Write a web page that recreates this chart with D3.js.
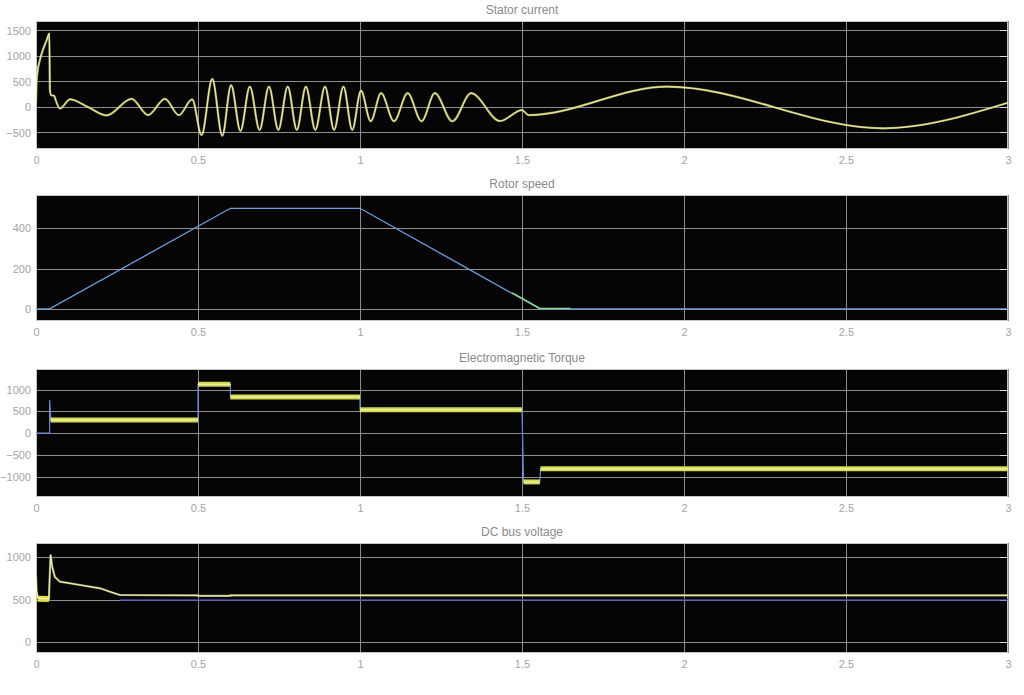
<!DOCTYPE html>
<html><head><meta charset="utf-8">
<script src="https://cdn.jsdelivr.net/npm/d3@7"></script>
<style>
body{margin:0;background:#fff;}
svg{display:block;font-family:"Liberation Sans",Arial,sans-serif;}
</style></head>
<body><svg id="chart" width="1024" height="695"></svg>
<script>
// ---------- data ----------
const xTicks = [0, 0.5, 1, 1.5, 2, 2.5, 3];
const xTickLabels = ["0", "0.5", "1", "1.5", "2", "2.5", "3"];

// Stator current (key points: peaks / troughs)
const statorT = [0, 0.0015, 0.004, 0.012, 0.023, 0.033, 0.041, 0.043, 0.047, 0.056, 0.06, 0.074,
  0.105, 0.16, 0.218, 0.295, 0.346, 0.398, 0.441, 0.482,
  0.511, 0.544, 0.575, 0.602, 0.631, 0.660, 0.690, 0.719, 0.748, 0.777, 0.805, 0.833, 0.862, 0.892, 0.920, 0.949, 0.976,
  1.003, 1.033, 1.065, 1.105, 1.147, 1.190, 1.231, 1.285, 1.343, 1.432, 1.500, 1.520, 1.948, 2.614, 3.000];
const statorI = [100, 450, 650, 920, 1150, 1310, 1440, 330, 230, 220, 150, -30,
  150, 0, -165, 160, -160, 160, -160, 150,
  -550, 550, -565, 430, -470, 400, -450, 400, -450, 400, -450, 400, -450, 400, -450, 400, -450,
  320, -280, 270, -280, 270, -280, 270, -280, 270, -275, -60, -160, 398, -418, 84];
const statorTicks = [-500, 0, 500, 1000, 1500];

// Rotor speed
const speedT = [0, 0.042, 0.6, 1.0, 1.555, 3];
const speedRef = [0, 0, 500, 500, 0, 0];
const speedMeasT = [1.47, 1.555, 1.65];
const speedMeas = [80, 3, 3];
const speedTicks = [0, 200, 400];

// Electromagnetic torque
const torqueRefT = [0, 0.042, 0.042, 0.046, 0.5, 0.5, 0.6, 0.6, 1.0, 1.0, 1.5, 1.505, 1.555, 1.557, 3];
const torqueRef = [0, 0, 760, 300, 300, 1120, 1120, 830, 830, 535, 535, -1120, -1120, -815, -815];
const torqueSegStart = [0.045, 0.5, 0.6, 1.0, 1.505, 1.557];
const torqueSegEnd = [0.5, 0.6, 1.0, 1.5, 1.555, 3.0];
const torqueSegValue = [305, 1120, 830, 535, -1115, -815];
const torqueTicks = [-1000, -500, 0, 500, 1000];

// DC bus voltage
const dcT = [0, 0.002, 0.006, 0.02, 0.04, 0.041, 0.045, 0.05, 0.058, 0.074, 0.136, 0.198, 0.228, 0.259, 0.5, 0.5, 0.6, 0.6, 3];
const dcV = [770, 600, 520, 515, 510, 640, 1030, 890, 770, 713, 674, 635, 595, 556, 552, 546, 546, 553, 553];
const dcRippleT = [0.005, 0.04];
const dcRippleV = [512, 508];
const dcRefT = [0.26, 3];
const dcRefV = [500, 500];
const dcTicks = [0, 500, 1000];

const titles = ["Stator current", "Rotor speed", "Electromagnetic Torque", "DC bus voltage"];

// ---------- layout ----------
const svg = d3.select("#chart");
const left = 36, right = 1008;
const x = d3.scaleLinear().domain([0, 3]).range([left, right]);

const panels = [
  {top: 21, bottom: 149, domain: [-824, 1686], ticks: statorTicks},
  {top: 195, bottom: 321, domain: [-60, 566], ticks: speedTicks},
  {top: 369, bottom: 497, domain: [-1460, 1470], ticks: torqueTicks},
  {top: 543, bottom: 653, domain: [-126, 1168], ticks: dcTicks}
];

const zip = (a, b) => a.map((v, i) => [v, b[i]]);

panels.forEach((p, i) => {
  const y = d3.scaleLinear().domain(p.domain).range([p.bottom, p.top]);
  p.y = y;
  const g = svg.append("g");
  g.append("rect").attr("x", left).attr("y", p.top).attr("width", right - left).attr("height", p.bottom - p.top).attr("fill", "#050505");
  // grid
  g.append("g").selectAll("line").data(xTicks).join("line")
    .attr("x1", d => Math.round(x(d)) + 0.5).attr("x2", d => Math.round(x(d)) + 0.5).attr("y1", p.top).attr("y2", p.bottom)
    .attr("stroke", "#8e8e8e").attr("stroke-width", 1);
  g.append("g").selectAll("line").data(p.ticks).join("line")
    .attr("x1", left).attr("x2", right).attr("y1", d => Math.round(y(d)) + 0.5).attr("y2", d => Math.round(y(d)) + 0.5)
    .attr("stroke", "#8e8e8e").attr("stroke-width", 1);
  // axes
  const ax = g.append("g").attr("transform", `translate(0,${p.bottom})`)
    .call(d3.axisBottom(x).tickValues(xTicks).tickFormat((d, k) => xTickLabels[k]).tickSize(0).tickPadding(7));
  const ay = g.append("g").attr("transform", `translate(${left},0)`)
    .call(d3.axisLeft(y).tickValues(p.ticks).tickFormat(d3.format("d")).tickSize(0).tickPadding(5));
  [ax, ay].forEach(a => {
    a.select(".domain").remove();
    a.selectAll("text").attr("fill", "#a4a4a4").attr("font-size", 11).attr("font-family", "'Liberation Sans',Arial,sans-serif");
  });
  // border
  g.append("rect").attr("x", left + 0.5).attr("y", p.top + 0.5).attr("width", right - left - 1).attr("height", p.bottom - p.top - 1)
    .attr("fill", "none").attr("stroke", "#c4c4c4").attr("stroke-width", 1);
  // right ticks
  g.append("g").selectAll("line").data(p.ticks).join("line")
    .attr("x1", right - 8).attr("x2", right).attr("y1", d => Math.round(y(d)) + 0.5).attr("y2", d => Math.round(y(d)) + 0.5)
    .attr("stroke", "#d8d8d8");
  // title
  svg.append("text").attr("x", (left + right) / 2).attr("y", p.top - 7).attr("text-anchor", "middle")
    .attr("font-size", 12).attr("fill", "#8a8a8a").text(titles[i]);
  // clip
  svg.append("clipPath").attr("id", "clip" + i).append("rect")
    .attr("x", left).attr("y", p.top).attr("width", right - left).attr("height", p.bottom - p.top);
  p.layer = svg.append("g").attr("clip-path", `url(#clip${i})`);
});

// ---------- series ----------
// 1 stator current
{
  const p = panels[0];
  const line = d3.line().x(d => x(d[0])).y(d => p.y(d[1])).curve(d3.curveMonotoneX);
  const data = zip(statorT, statorI);
  p.layer.append("path").attr("d", line(data)).attr("fill", "none").attr("stroke", "#d2d25a").attr("stroke-width", 2.2).attr("stroke-opacity", 0.8);
  p.layer.append("path").attr("d", line(data)).attr("fill", "none").attr("stroke", "#f8f6c8").attr("stroke-width", 0.9);
}
// 2 rotor speed
{
  const p = panels[1];
  const line = d3.line().x(d => x(d[0])).y(d => p.y(d[1]));
  p.layer.append("path").attr("d", line(zip(speedT, speedRef))).attr("fill", "none").attr("stroke", "#6f9ee0").attr("stroke-width", 1.3);
  p.layer.append("path").attr("d", line(zip(speedMeasT, speedMeas))).attr("fill", "none").attr("stroke", "#8fe08a").attr("stroke-width", 1.3);
}
// 3 torque
{
  const p = panels[2];
  const line = d3.line().x(d => x(d[0])).y(d => p.y(d[1]));
  p.layer.append("path").attr("d", line(zip(torqueRefT, torqueRef))).attr("fill", "none").attr("stroke", "#6688d8").attr("stroke-width", 1.2);
  torqueSegStart.forEach((s, k) => {
    const seg = [[s, torqueSegValue[k]], [torqueSegEnd[k], torqueSegValue[k]]];
    p.layer.append("path").attr("d", line(seg)).attr("fill", "none").attr("stroke", "#d2da50").attr("stroke-width", 5);
    p.layer.append("path").attr("d", line(seg)).attr("fill", "none").attr("stroke", "#eef2a8").attr("stroke-width", 1.2);
  });
}
// 4 DC bus
{
  const p = panels[3];
  const line = d3.line().x(d => x(d[0])).y(d => p.y(d[1]));
  p.layer.append("path").attr("d", line(zip(dcRefT, dcRefV))).attr("fill", "none").attr("stroke", "#4040b0").attr("stroke-width", 1.3);
  p.layer.append("path").attr("d", line(zip(dcRippleT, dcRippleV))).attr("fill", "none").attr("stroke", "#e0e040").attr("stroke-width", 6);
  p.layer.append("path").attr("d", line(zip(dcT, dcV))).attr("fill", "none").attr("stroke", "#d8d870").attr("stroke-width", 2.2).attr("stroke-opacity", 0.7);
  p.layer.append("path").attr("d", line(zip(dcT, dcV))).attr("fill", "none").attr("stroke", "#f8f8d0").attr("stroke-width", 1);
}
</script></body></html>
